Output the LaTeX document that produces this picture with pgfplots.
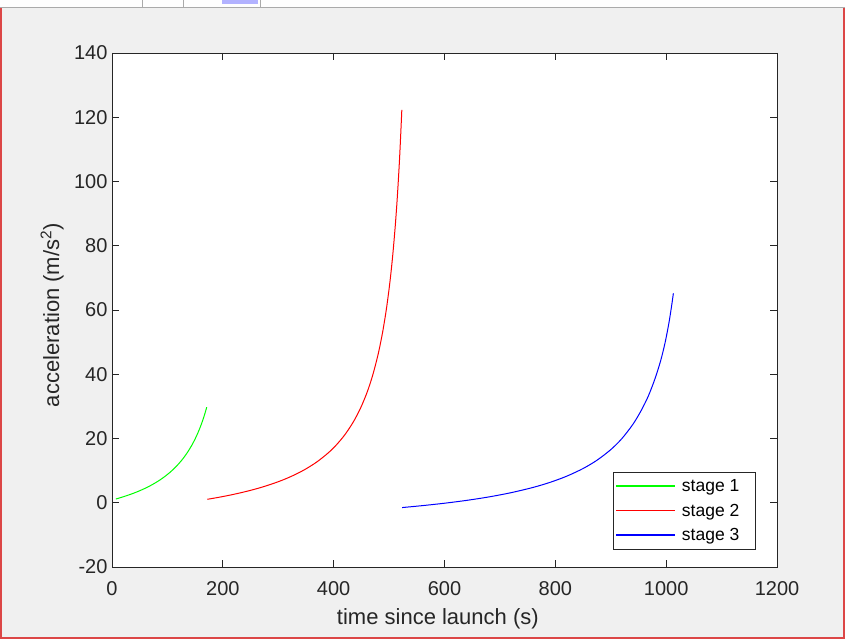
\documentclass[border=0pt]{standalone}
\usepackage{fontspec}
\setmainfont{Liberation Sans}
\usepackage{pgfplots}
\pgfplotsset{compat=1.18}
\definecolor{figgray}{RGB}{240,240,240}
\definecolor{axcol}{RGB}{38,38,38}
\definecolor{winred}{RGB}{220,70,70}
\definecolor{sepgray}{RGB}{170,170,170}
\definecolor{sgreen}{RGB}{0,255,0}
\definecolor{sred}{RGB}{255,0,0}
\definecolor{sblue}{RGB}{0,0,255}
\begin{document}
\begin{tikzpicture}[x=1pt,y=1pt]
\fill[figgray] (0,0) rectangle (845,639);
\fill[white!96!figgray] (0,632) rectangle (845,639);
\draw[sepgray, line width=1.2pt] (0,631.5) -- (845,631.5);
\draw[sepgray, line width=0.6pt] (142,632) -- (142,639);
\draw[sepgray, line width=0.6pt] (183,632) -- (183,639);
\draw[sepgray, line width=0.6pt] (260,632) -- (260,639);
\fill[blue!30!white] (222,635) rectangle (258,639);
\fill[winred] (0,0) rectangle (2,631);
\fill[winred] (843,0) rectangle (845,631);
\fill[winred] (0,0) rectangle (845,2);
\begin{axis}[
  at={(112pt,72pt)}, anchor=south west,
  scale only axis, width=665pt, height=514pt,
  xmin=0, xmax=1200, ymin=-20, ymax=140,
  xtick={0,200,...,1200}, ytick={-20,0,...,140},
  tick align=inside, tick pos=both,
  major tick length=7pt,
  axis line style={axcol, line width=0.7pt},
  every tick/.style={axcol, line width=0.7pt},
  axis background/.style={fill=white},
  /pgf/number format/assume math mode=true,
  /pgf/number format/1000 sep={},
  tick label style={font=\fontsize{20}{23}\selectfont, text=axcol},
  xticklabel style={yshift=-11pt},
  yticklabel style={xshift=-1pt},
  label style={font=\fontsize{22}{26}\selectfont, text=axcol},
  xlabel={time since launch (s)},
  ylabel={acceleration (m/s\textsuperscript{2})},
  xlabel style={at={(axis description cs:0.49,-0.1)}, anchor=center},
  ylabel style={at={(axis description cs:-0.09,0.49)}, anchor=center},
  legend style={at={(0.968,0.033)}, anchor=south east,
    font=\fontsize{17.5}{21}\selectfont, text=black,
    draw=axcol, line width=0.7pt, inner sep=2pt, row sep=0pt,
    nodes={inner sep=2pt, text height=15.5pt, text depth=5pt}},
  legend cell align=left,
  legend image code/.code={\draw[#1, line width=1.4pt] (0pt,0.4pt) -- (59pt,0.4pt); \path (63pt,0.4pt);},
]
\addplot[sgreen, line width=1pt, smooth] coordinates {
(7,1.17)(15,1.57)(25,2.12)(35,2.72)(45,3.38)(55,4.12)(65,4.94)(75,5.87)(85,6.92)(95,8.13)(105,9.52)(115,11.14)(125,13.06)(135,15.37)(145,18.20)(152,20.59)(158,22.99)(163,25.30)(167,27.40)(171,29.76)
};
\addlegendentry{stage 1\hspace*{12pt}}
\addplot[sred, line width=1pt, smooth] coordinates {
(172,1.07)(190,1.61)(210,2.27)(230,3.02)(250,3.86)(270,4.82)(290,5.93)(310,7.21)(330,8.73)(350,10.54)(370,12.75)(390,15.49)(405,18.03)(420,21.13)(435,25.02)(448,29.27)(460,34.23)(470,39.44)(480,46.06)(488,52.78)(495,60.14)(501,67.98)(506,76.0)(511,85.87)(515,95.56)(519,107.43)(523,122.3)
};
\addlegendentry{stage 2\hspace*{12pt}}
\addplot[sblue, line width=1pt, smooth] coordinates {
(523.5,-1.5)(560,-0.90)(600,-0.15)(640,0.74)(680,1.81)(720,3.13)(760,4.78)(790,6.32)(820,8.23)(850,10.65)(875,13.22)(900,16.53)(920,19.96)(940,24.42)(955,28.74)(968,33.3)(980,38.7)(990,44.2)(998,49.8)(1005,56.0)(1010,61.5)(1013,65.2)
};
\addlegendentry{stage 3\hspace*{12pt}}
\end{axis}
\pgfresetboundingbox
\path[use as bounding box] (0,0) rectangle (845,639);
\end{tikzpicture}
\end{document}
